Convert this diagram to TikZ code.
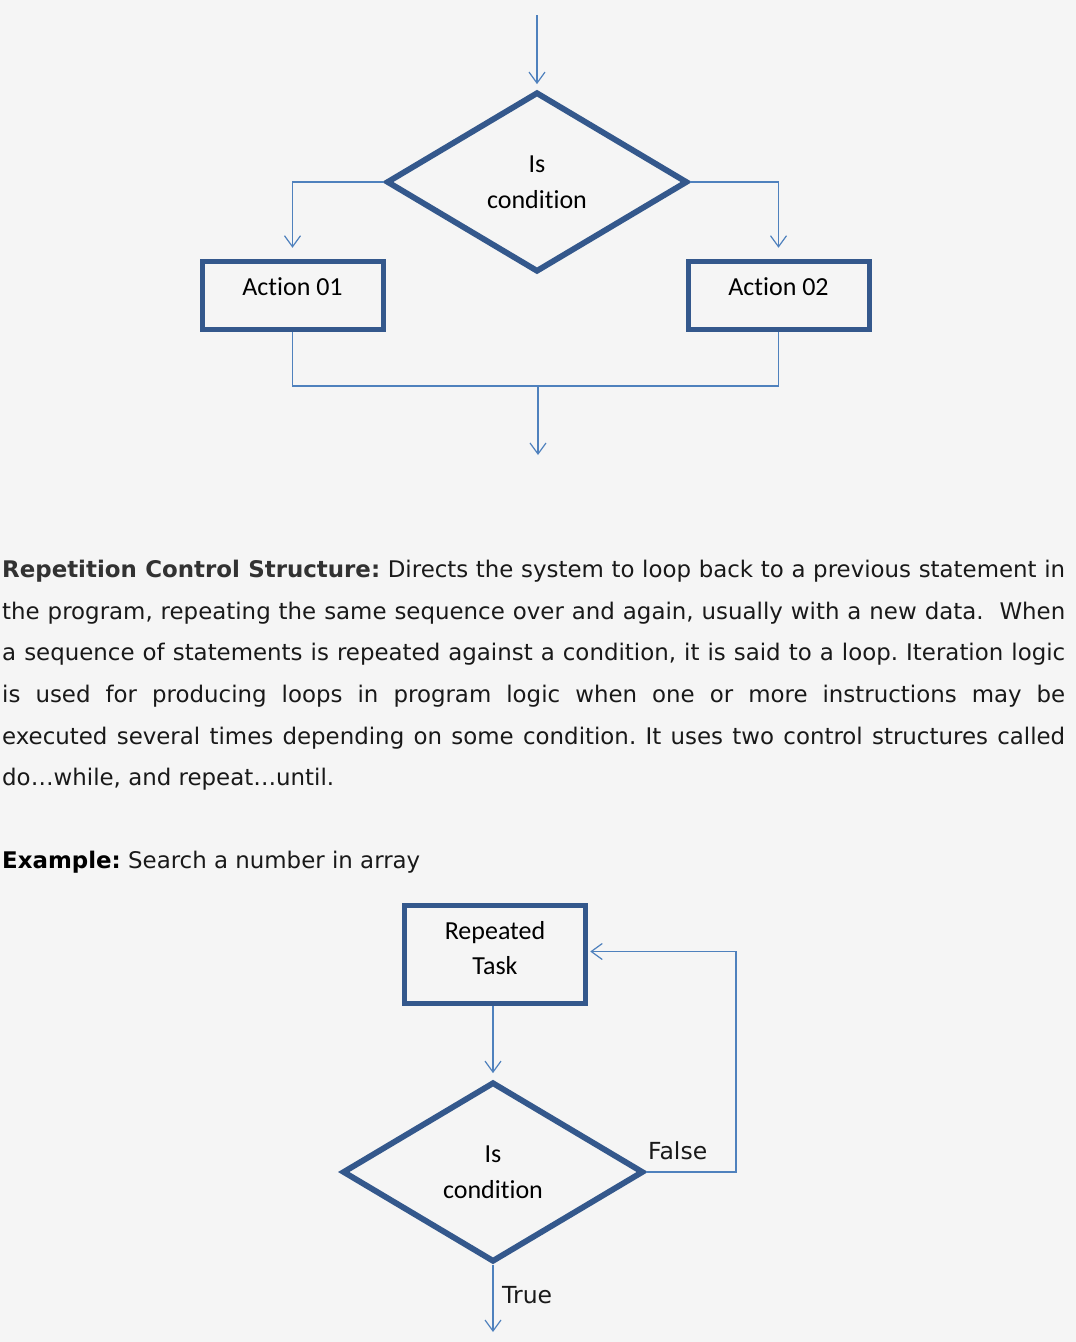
\documentclass[tikz,border=0pt]{standalone}
\usepackage{fontspec}
\setmainfont{DejaVu Sans}
\newfontfamily\boxfont[Ligatures=NoCommon]{Carlito}
\usetikzlibrary{shapes.geometric,arrows.meta}
\definecolor{bgcol}{RGB}{245,245,245}
\definecolor{linecol}{RGB}{79,129,189}
\definecolor{framecol}{RGB}{52,88,140}
\definecolor{textcol}{RGB}{25,25,25}
\definecolor{headcol}{RGB}{50,50,50}
\tikzset{
    conn/.style={draw=linecol, line width=1.2pt},
    arr/.style={conn, -{Straight Barb[length=11pt,width=16pt]}},
    task/.style={draw=framecol, line width=5pt, rectangle, inner sep=0pt,
        minimum width=181pt, minimum height=68.5pt, align=center,
        font=\boxfont\fontsize{26}{35}\selectfont},
    decision/.style={draw=framecol, line width=5.8pt, diamond, inner sep=0pt,
        minimum width=301pt, minimum height=180pt, align=center,
        font=\boxfont\fontsize{26}{36}\selectfont},
    lbl/.style={inner sep=0pt, text=textcol, font=\fontsize{23.5}{28}\selectfont}
}
\begin{document}
\frenchspacing
\begin{tikzpicture}[x=1pt,y=-1pt]
    \useasboundingbox (0,0) rectangle (1076,1342);
    \fill[bgcol] (0,0) rectangle (1076,1342);
    % selection
    \coordinate (in) at (537,15);
    \node[decision] (cond) at (537,182) {Is\\condition};
    \node[task, text depth=17.5pt] (act1) at (292.5,295.5) {Action 01};
    \node[task, text depth=17.5pt] (act2) at (778.5,295.5) {Action 02};
    \coordinate (merge) at (538,386);
    \coordinate (out) at (538,455);
    \draw[arr, shorten >=5pt] (in) -- (cond.north);
    \draw[arr, shorten >=11pt] (cond.west) -| (act1.north);
    \draw[arr, shorten >=11pt] (cond.east) -| (act2.north);
    \draw[conn] (act1.south) |- (merge) -| (act2.south);
    \draw[arr] (merge) -- (out);
    % text
    \node[anchor=north west, inner sep=0pt, text width=1063pt, align=justify,
        text=textcol, font=\fontsize{22.9}{41.6}\selectfont] (para) at (2,560)
        {\textcolor{headcol}{\textbf{Repetition Control Structure:}} Directs the system to loop back to a previous statement in\linebreak
        the program, repeating the same sequence over and again, usually with a new data.\ \ When\linebreak
        a sequence of statements is repeated against a condition, it is said to a loop. Iteration logic\linebreak
        is used for producing loops in program logic when one or more instructions may be\linebreak
        executed several times depending on some condition. It uses two control structures called\linebreak
        do…while, and repeat…until.};
    \node[anchor=base west, inner sep=0pt, text=textcol,
        font=\fontsize{22.9}{41.6}\selectfont] (example) at (2,868)
        {\textcolor{black}{\textbf{Example:}} Search a number in array};
    % repetition
    \node[task, minimum width=181.5pt, minimum height=98.5pt, text depth=13pt] (rep) at (495,954.5) {Repeated\\Task};
    \node[decision] (cond2) at (493,1172) {Is\\condition};
    \coordinate (back) at (736,1172);
    \coordinate (end) at (493,1332);
    \draw[arr, shorten >=6pt] (rep.south -| cond2.north) -- (cond2.north);
    \draw[arr, shorten >=2pt] (cond2.east) -- (back) |- ([yshift=3pt]rep.east);
    \draw[arr] (cond2.south) -- (end);
    \node[lbl, anchor=base west] (false) at (648,1159) {False};
    \node[lbl, anchor=base west] (true) at (502,1303) {True};
\end{tikzpicture}
\end{document}
